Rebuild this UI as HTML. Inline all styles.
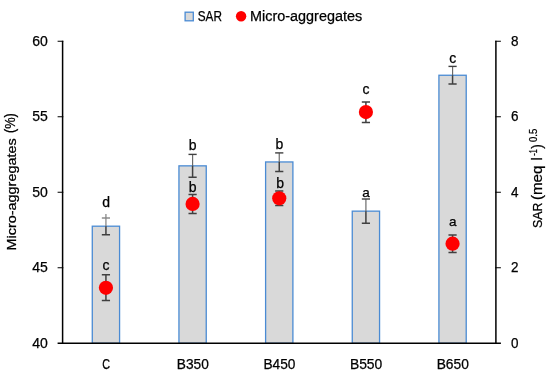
<!DOCTYPE html>
<html><head><meta charset="utf-8"><title>chart</title>
<style>html,body{margin:0;padding:0;background:#fff}svg{display:block}text{font-family:"Liberation Sans",sans-serif;fill:#000;stroke:#000;stroke-width:0.25px}</style></head><body>
<svg width="550" height="377" viewBox="0 0 550 377">
<rect width="550" height="377" fill="#fff"/>
<rect x="92.28" y="226.20" width="27.3" height="117.10" fill="#d9d9d9" stroke="#4a8bd4" stroke-width="1.3"/>
<rect x="178.94" y="165.85" width="27.3" height="177.45" fill="#d9d9d9" stroke="#4a8bd4" stroke-width="1.3"/>
<rect x="265.60" y="161.95" width="27.3" height="181.35" fill="#d9d9d9" stroke="#4a8bd4" stroke-width="1.3"/>
<rect x="352.26" y="211.15" width="27.3" height="132.15" fill="#d9d9d9" stroke="#4a8bd4" stroke-width="1.3"/>
<rect x="438.92" y="75.25" width="27.3" height="268.05" fill="#d9d9d9" stroke="#4a8bd4" stroke-width="1.3"/>
<path d="M105.93 214.0 V226.2" stroke="#808080" stroke-width="1.2" fill="none"/>
<path d="M101.83 218.0 H110.03" stroke="#858585" stroke-width="1.4" fill="none"/>
<path d="M105.93 226.2 V234.85 M101.83 234.85 H110.03" stroke="#404040" stroke-width="1.5" fill="none"/>
<path d="M192.59 154.4 V165.85" stroke="#6a6a6a" stroke-width="1.2" fill="none"/>
<path d="M188.49 154.4 H196.69" stroke="#404040" stroke-width="1.4" fill="none"/>
<path d="M192.59 165.85 V177.3 M188.49 177.3 H196.69" stroke="#404040" stroke-width="1.5" fill="none"/>
<path d="M279.25 152.9 V161.95" stroke="#6a6a6a" stroke-width="1.2" fill="none"/>
<path d="M275.15 152.9 H283.35" stroke="#404040" stroke-width="1.4" fill="none"/>
<path d="M279.25 161.95 V171.4 M275.15 171.4 H283.35" stroke="#404040" stroke-width="1.5" fill="none"/>
<path d="M365.91 199.0 V211.15" stroke="#6a6a6a" stroke-width="1.2" fill="none"/>
<path d="M361.81 199.0 H370.01" stroke="#404040" stroke-width="1.4" fill="none"/>
<path d="M365.91 211.15 V223.3 M361.81 223.3 H370.01" stroke="#404040" stroke-width="1.5" fill="none"/>
<path d="M452.57 66.4 V75.25" stroke="#6a6a6a" stroke-width="1.2" fill="none"/>
<path d="M448.47 66.4 H456.67" stroke="#404040" stroke-width="1.4" fill="none"/>
<path d="M452.57 75.25 V84.1 M448.47 84.1 H456.67" stroke="#404040" stroke-width="1.5" fill="none"/>
<path d="M105.93 274.7 V300.6 M101.83 274.7 H110.03 M101.83 300.6 H110.03" stroke="#404040" stroke-width="1.5" fill="none"/>
<circle cx="105.93" cy="287.8" r="7.1" fill="#ff0000"/>
<path d="M192.59 194.4 V213.5 M188.49 194.4 H196.69 M188.49 213.5 H196.69" stroke="#404040" stroke-width="1.5" fill="none"/>
<circle cx="192.59" cy="203.9" r="7.1" fill="#ff0000"/>
<path d="M279.25 191.0 V205.5 M275.15 191.0 H283.35 M275.15 205.5 H283.35" stroke="#404040" stroke-width="1.5" fill="none"/>
<circle cx="279.25" cy="198.3" r="7.1" fill="#ff0000"/>
<path d="M365.91 102.0 V122.4 M361.81 102.0 H370.01 M361.81 122.4 H370.01" stroke="#404040" stroke-width="1.5" fill="none"/>
<circle cx="365.91" cy="112.05" r="7.1" fill="#ff0000"/>
<path d="M452.57 234.9 V252.4 M448.47 234.9 H456.67 M448.47 252.4 H456.67" stroke="#404040" stroke-width="1.5" fill="none"/>
<circle cx="452.57" cy="243.65" r="7.1" fill="#ff0000"/>
<path d="M62.6 40.7 V343.3" stroke="#000" stroke-width="1.5" fill="none"/>
<path d="M495.9 40.7 V343.3" stroke="#000" stroke-width="1.5" fill="none"/>
<path d="M57.6 343.3 H500.9" stroke="#000" stroke-width="1.4" fill="none"/>
<path d="M57.6 41.20 H63.300000000000004 M495.2 41.20 H500.9" stroke="#000" stroke-width="1.05" fill="none"/>
<text x="47.9" y="45.90" font-size="14" text-anchor="end" textLength="15.6" lengthAdjust="spacingAndGlyphs">60</text>
<text x="511" y="45.90" font-size="14" textLength="7.5" lengthAdjust="spacingAndGlyphs">8</text>
<path d="M57.6 116.73 H63.300000000000004 M495.2 116.73 H500.9" stroke="#000" stroke-width="1.05" fill="none"/>
<text x="47.9" y="121.43" font-size="14" text-anchor="end" textLength="15.6" lengthAdjust="spacingAndGlyphs">55</text>
<text x="511" y="121.43" font-size="14" textLength="7.5" lengthAdjust="spacingAndGlyphs">6</text>
<path d="M57.6 192.25 H63.300000000000004 M495.2 192.25 H500.9" stroke="#000" stroke-width="1.05" fill="none"/>
<text x="47.9" y="196.95" font-size="14" text-anchor="end" textLength="15.6" lengthAdjust="spacingAndGlyphs">50</text>
<text x="511" y="196.95" font-size="14" textLength="7.5" lengthAdjust="spacingAndGlyphs">4</text>
<path d="M57.6 267.78 H63.300000000000004 M495.2 267.78 H500.9" stroke="#000" stroke-width="1.05" fill="none"/>
<text x="47.9" y="272.48" font-size="14" text-anchor="end" textLength="15.6" lengthAdjust="spacingAndGlyphs">45</text>
<text x="511" y="272.48" font-size="14" textLength="7.5" lengthAdjust="spacingAndGlyphs">2</text>
<text x="47.9" y="348.00" font-size="14" text-anchor="end" textLength="15.6" lengthAdjust="spacingAndGlyphs">40</text>
<text x="511" y="348.00" font-size="14" textLength="7.5" lengthAdjust="spacingAndGlyphs">0</text>
<text x="102.23" y="369.1" font-size="14" textLength="7.8" lengthAdjust="spacingAndGlyphs">C</text>
<text x="176.79" y="369.1" font-size="14" textLength="32" lengthAdjust="spacingAndGlyphs">B350</text>
<text x="263.45" y="369.1" font-size="14" textLength="32" lengthAdjust="spacingAndGlyphs">B450</text>
<text x="349.91" y="369.1" font-size="14" textLength="32.4" lengthAdjust="spacingAndGlyphs">B550</text>
<text x="436.67" y="369.1" font-size="14" textLength="32.2" lengthAdjust="spacingAndGlyphs">B650</text>
<text x="106.03" y="206.7" font-size="14" text-anchor="middle">d</text>
<text x="106.03" y="269.6" font-size="14" text-anchor="middle">c</text>
<text x="192.69" y="149.7" font-size="14" text-anchor="middle">b</text>
<text x="192.69" y="192.3" font-size="14" text-anchor="middle">b</text>
<text x="279.35" y="149.3" font-size="14" text-anchor="middle">b</text>
<text x="280.15" y="187.9" font-size="14" text-anchor="middle">b</text>
<text x="366.01" y="197.0" font-size="13.5" text-anchor="middle">a</text>
<text x="366.01" y="94.0" font-size="14" text-anchor="middle">c</text>
<text x="452.67" y="63.2" font-size="14" text-anchor="middle">c</text>
<text x="452.67" y="225.7" font-size="13.5" text-anchor="middle">a</text>
<rect x="185.1" y="12.2" width="8.2" height="8.6" fill="#d9d9d9" stroke="#4a8bd4" stroke-width="1.3"/>
<text x="197.7" y="20.5" font-size="14" textLength="24.2" lengthAdjust="spacingAndGlyphs">SAR</text>
<circle cx="241.1" cy="16.2" r="5.2" fill="#ff0000"/>
<text x="250.1" y="20.5" font-size="14" textLength="112" lengthAdjust="spacingAndGlyphs">Micro-aggregates</text>
<g transform="translate(15.5 251) rotate(-90)">
<text x="0.6" y="0" font-size="13.5" textLength="112" lengthAdjust="spacingAndGlyphs">Micro-aggregates</text>
<text x="117.9" y="-0.9" font-size="14.5" textLength="19.9" lengthAdjust="spacingAndGlyphs">(%)</text>
</g>
<g transform="translate(542.3 227.7) rotate(-90)">
<text x="-0.3" y="0" font-size="13.5" textLength="25.4" lengthAdjust="spacingAndGlyphs">SAR</text>
<text x="27.6" y="0" font-size="14" textLength="34.6" lengthAdjust="spacingAndGlyphs">(meq</text>
<text x="67.2" y="0" font-size="14.5">l</text>
<text x="72" y="-5.4" font-size="10.5" textLength="6.6" lengthAdjust="spacingAndGlyphs">-1</text>
<text x="78.9" y="-0.7" font-size="14.5" textLength="4.6" lengthAdjust="spacingAndGlyphs">)</text>
<text x="85.8" y="-5.4" font-size="10.5" textLength="13.2" lengthAdjust="spacingAndGlyphs">0.5</text>
</g>
</svg></body></html>
